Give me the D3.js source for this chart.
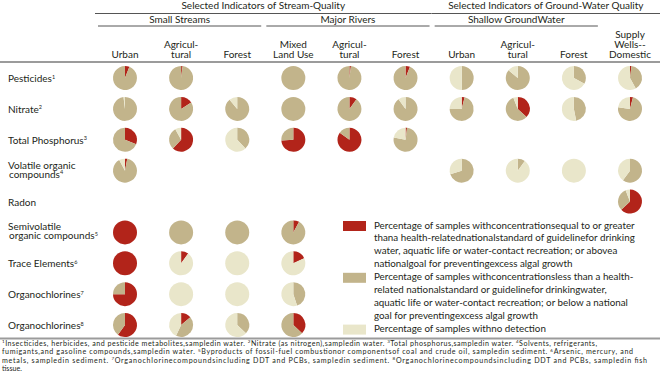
<!DOCTYPE html>
<html>
<head>
<meta charset="utf-8">
<script src="https://cdn.jsdelivr.net/npm/d3@7"></script>
<style>
    body { margin: 0; background: #fff; }
    svg { display: block; font-family: Lato, "Open Sans", sans-serif; }
    text { fill: #231f20; }
</style>
</head>
<body>
<svg id="chart" width="660" height="387"></svg>
<script>
// column headers ("|" = line break)
var columns = ["Urban", "Agricul-|tural", "Forest", "Mixed|Land Use", "Agricul-|tural", "Forest",
               "Urban", "Agricul-|tural", "Forest", "Supply|Wells--|Domestic"];

var topGroups = [
    { label: "Selected Indicators of Stream-Quality", from: 0, to: 5 },
    { label: "Selected Indicators of Ground-Water Quality", from: 6, to: 9 }
];
var subGroups = [
    { label: "Small Streams", from: 0, to: 2 },
    { label: "Major Rivers", from: 3, to: 5 },
    { label: "Shallow GroundWater", from: 6, to: 8 }
];

// row labels ("^n" = superscript note)
var rows = [
    ["Pesticides^1"],
    ["Nitrate^2"],
    ["Total Phosphorus^3"],
    ["Volatile organic", " compounds^4"],
    ["Radon"],
    ["Semivolatile", " organic compounds^5"],
    ["Trace Elements^6"],
    ["Organochlorines^7"],
    ["Organochlorines^8"]
];

// percent of samples, null = not sampled
var exceed = [
    [6, 2, null, 0, 2, 6, 0, 0, 0, 2],
    [0, 16, 0, 0, 10, 0, 4, 37, 0, 4],
    [31, 62, 0, 74, 85, 2, null, null, null, null],
    [3, null, null, null, null, null, 0, 0, 0, 0],
    [null, null, null, null, null, null, null, null, null, 63],
    [100, 0, 0, 8, null, null, null, null, null, null],
    [100, 10, 0, 18, null, null, null, null, null, null],
    [75, 0, 0, 0, null, null, null, null, null, null],
    [60, 14, 0, 37, null, null, null, null, null, null]
];
var below = [
    [94, 98, null, 100, 98, 94, 50, 86, 33, 40],
    [98, 84, 89, 100, 90, 90, 71, 57, 47, 73],
    [69, 30, 38, 26, 15, 76, null, null, null, null],
    [89, null, null, null, null, null, 70, 10, 0, 60],
    [null, null, null, null, null, null, null, null, null, 31],
    [0, 100, 100, 92, null, null, null, null, null, null],
    [0, 0, 0, 0, null, null, null, null, null, null],
    [25, 0, 0, 45, null, null, null, null, null, null],
    [40, 43, 37, 63, null, null, null, null, null, null]
];
var noDetect = [
    [0, 0, null, 0, 0, 0, 50, 14, 67, 58],
    [2, 0, 11, 0, 0, 10, 25, 6, 53, 23],
    [0, 8, 62, 0, 0, 22, null, null, null, null],
    [8, null, null, null, null, null, 30, 90, 100, 40],
    [null, null, null, null, null, null, null, null, null, 6],
    [0, 0, 0, 0, null, null, null, null, null, null],
    [0, 90, 100, 82, null, null, null, null, null, null],
    [0, 100, 100, 55, null, null, null, null, null, null],
    [0, 43, 63, 0, null, null, null, null, null, null]
];

var legendItems = [
    { key: "exceed", lines: ["Percentage of samples withconcentrationsequal to or greater",
                             "thana health-relatednationalstandard of guidelinefor drinking",
                             "water, aquatic life or water-contact recreation; or abovea",
                             "nationalgoal for preventingexcess  algal growth"] },
    { key: "below", lines: ["Percentage of samples withconcentrationsless  than a health-",
                            "related nationalstandard or guidelinefor drinkingwater,",
                            "aquatic life or water-contact recreation; or below a national",
                            "goal for preventingexcess  algal growth"] },
    { key: "none", lines: ["Percentage of samples withno detection"] }
];

var footnotes = [
    "^1Insecticides,  herbicides, and pesticide metabolites,sampledin water. ^2Nitrate (as nitrogen),sampledin water. ^3Total phosphorus,sampledin water. ^4Solvents, refrigerants,",
    "fumigants,and gasoline compounds,sampledin water.  ^5Byproducts of fossil-fuel combustionor componentsof coal and crude oil, sampledin sediment. ^6Arsenic,  mercury, and",
    "metals, sampledin sediment. ^7Organochlorinecompoundsincluding DDT and PCBs,  sampledin sediment. ^8Organochlorinecompoundsincluding DDT and PCBs,  sampledin fish",
    "tissue."
];

var W = 660, H = 387;
var svg = d3.select("#chart");

var x = d3.scalePoint().domain(d3.range(columns.length)).range([125, 630]);
var y = d3.scalePoint().domain(d3.range(rows.length)).range([78, 325]);
var color = d3.scaleOrdinal()
    .domain(["exceed", "below", "none"])
    .range(["#b2241a", "#c2b48b", "#e9e6ca"]);

// text with ^n superscripts
function richText(sel, str, supSize, shift) {
    var parts = str.split(/(\^\d)/), shifted = false;
    parts.forEach(function(p) {
        if (!p) return;
        if (p[0] === "^") {
            sel.append("tspan").attr("font-size", supSize).attr("dy", -shift).text(p.slice(1));
            shifted = true;
        } else {
            sel.append("tspan").attr("dy", shifted ? shift : 0).text(p);
            shifted = false;
        }
    });
}

// ---- header ----
var header = svg.append("g");
topGroups.forEach(function(g) {
    var last = g.to === columns.length - 1;
    var x1 = x(g.from) - 30, x2 = last ? W : x(g.to) + 26;
    header.append("text").attr("x", (x1 + x2) / 2).attr("y", 9)
        .attr("text-anchor", "middle").attr("font-size", 10).text(g.label);
    header.append("line").attr("x1", x1).attr("x2", x2)
        .attr("y1", 13.5).attr("y2", 13.5).attr("stroke", "#555").attr("stroke-width", 1);
});
subGroups.forEach(function(g) {
    var x1 = x(g.from) - 27, x2 = x(g.to) + 24;
    header.append("text").attr("x", (x1 + x2) / 2).attr("y", 22.5)
        .attr("text-anchor", "middle").attr("font-size", 10).text(g.label);
    header.append("line").attr("x1", x1).attr("x2", x2)
        .attr("y1", 26).attr("y2", 26).attr("stroke", "#555").attr("stroke-width", 1);
});
columns.forEach(function(c, j) {
    var lines = c.split("|");
    var t = header.append("text").attr("text-anchor", "middle").attr("font-size", 10);
    lines.forEach(function(l, k) {
        t.append("tspan").attr("x", x(j)).attr("y", 58 - (lines.length - 1 - k) * 10).text(l);
    });
});
svg.append("line").attr("x1", 0).attr("x2", W).attr("y1", 62).attr("y2", 62)
    .attr("stroke", "#9b9b9b").attr("stroke-width", 2);

// ---- row labels ----
rows.forEach(function(r, i) {
    r.forEach(function(l, k) {
        var t = svg.append("text").attr("font-size", 10)
            .attr("x", k === 0 ? 8 : 9)
            .attr("y", r.length === 1 ? y(i) + 4 : y(i) - 2 + k * 9);
        richText(t, l, 5.5, 3.5);
    });
});

// ---- pies ----
var pie = d3.pie().sort(null).value(function(d) { return d.value; });
var arc = d3.arc().innerRadius(0).outerRadius(12);

var cells = [];
rows.forEach(function(r, i) {
    columns.forEach(function(c, j) {
        if (exceed[i][j] === null) return;
        cells.push({ row: i, col: j, parts: [
            { key: "exceed", value: exceed[i][j] },
            { key: "below", value: below[i][j] },
            { key: "none", value: noDetect[i][j] }
        ]});
    });
});

var pies = svg.append("g").selectAll("g.pie").data(cells).join("g")
    .attr("class", "pie")
    .attr("transform", function(d) { return "translate(" + x(d.col) + "," + y(d.row) + ")"; });
pies.selectAll("path")
    .data(function(d) { return pie(d.parts).filter(function(a) { return a.data.value > 0; }); })
    .join("path")
    .attr("d", arc)
    .attr("fill", function(a) { return color(a.data.key); });

// ---- legend ----
var legend = svg.append("g");
var lineH = 12.95, base = 228.5, n = 0;
legendItems.forEach(function(item) {
    legend.append("rect").attr("x", 343).attr("y", base + n * lineH - 7.5)
        .attr("width", 23).attr("height", 10).attr("fill", color(item.key));
    item.lines.forEach(function(l) {
        legend.append("text").attr("x", 374).attr("y", base + n * lineH)
            .attr("font-size", 9.8).text(l);
        n++;
    });
});

// ---- footnotes ----
svg.append("line").attr("x1", 0).attr("x2", W).attr("y1", 338.5).attr("y2", 338.5)
    .attr("stroke", "#9b9b9b").attr("stroke-width", 2);
// the source set these in a condensed face; spread them to the same line ends
var footEnds = [597, 633, 647, null];
footnotes.forEach(function(f, i) {
    var t = svg.append("text").attr("x", 2).attr("y", 345.5 + i * 8.6).attr("font-size", 7.1);
    richText(t, f, 4.6, 2.5);
    if (footEnds[i]) t.attr("textLength", footEnds[i] - 2).attr("lengthAdjust", "spacing");
});
</script>
</body>
</html>
